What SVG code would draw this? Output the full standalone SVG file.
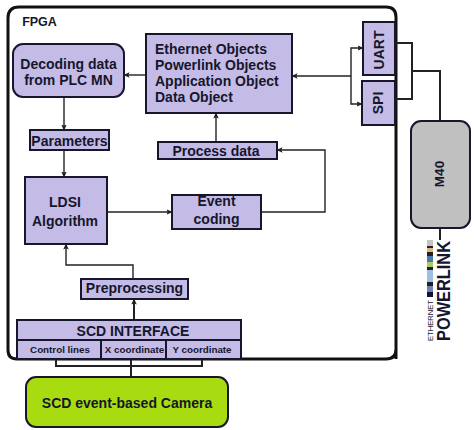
<svg xmlns="http://www.w3.org/2000/svg" width="474" height="430" viewBox="0 0 474 430">
<style>
text{font-family:"Liberation Sans",Arial,sans-serif;font-weight:bold;fill:#16162c;text-anchor:middle}
.b{fill:#c4bce6;stroke:#16162c;stroke-width:2}
.c{fill:none;stroke:#222;stroke-width:1.4}
.t{fill:none;stroke:#222;stroke-width:2}
.a{marker-end:url(#ah)}
.l{font-size:14px}
.s{font-size:9.800px}
.st{text-anchor:start}
</style>
<defs><marker id="ah" markerWidth="6" markerHeight="6" refX="5.5" refY="3" orient="auto" markerUnits="userSpaceOnUse"><path d="M0,0.2L6,3L0,5.8L1.2,3Z" fill="#222"/></marker></defs>
<rect width="474" height="430" fill="#fff"/>
<g id="fpga"><path d="M396,359V17Q396,7 386,7H19Q8,7 8,18V350Q8,359 17,359H386Q396,359 396,349" fill="none" stroke="#111" stroke-width="3"/><text x="39.500" y="25.500" font-size="12.500">FPGA</text></g>
<g id="connectors">
<path class="c a" d="M146,75H124"/>
<path class="c a" d="M64,97V130"/>
<path class="c a" d="M64,150V177"/>
<path class="c a" d="M216,142V113"/>
<path class="c a" d="M107,212H172"/>
<path class="c a" d="M261,212H325V150H277"/>
<path class="c a" d="M133,279V265H66V244"/>
<path class="t a" d="M134,320V299"/>
<path class="c a" d="M351,76H292"/>
<path class="c a" d="M351,76V48H363"/>
<path class="c a" d="M351,76V104H362"/>
<path class="t" d="M396,43H412V99H396M412,71H440V121"/>
<path class="t" d="M440,228V240"/>
<path class="t" d="M56,359V366H202V359M131,359V377"/>
</g>
<g id="decoding"><rect class="b" x="13" y="44" width="111" height="53" rx="10"/><text class="l" x="68.500" y="69">Decoding data</text><text class="l" x="68.500" y="85">from PLC MN</text></g>
<g id="objects"><rect class="b" x="146" y="34" width="146" height="79"/><text class="l st" x="155" y="54">Ethernet Objects</text><text class="l st" x="155" y="70">Powerlink Objects</text><text class="l st" x="155" y="86">Application Object</text><text class="l st" x="155" y="102">Data Object</text></g>
<g id="parameters"><rect class="b" x="30" y="130" width="79" height="20"/><text class="l" x="69.500" y="146">Parameters</text></g>
<g id="process"><rect class="b" x="158" y="142" width="119" height="17"/><text class="l" x="216" y="156">Process data</text></g>
<g id="ldsi"><rect class="b" x="25" y="177" width="82" height="67"/><text class="l" x="65" y="207">LDSI</text><text class="l" x="65" y="226">Algorithm</text></g>
<g id="event"><rect class="b" x="172" y="195" width="89" height="34"/><text class="l" x="216.500" y="206">Event</text><text class="l" x="216.500" y="224">coding</text></g>
<g id="preprocessing"><rect class="b" x="81" y="279" width="107" height="20"/><text class="l" x="134.500" y="293">Preprocessing</text></g>
<g id="scd"><rect class="b" x="17" y="320" width="224" height="39"/><path class="b" d="M17,340H241M101,340V359M166,340V359"/><text x="133" y="336" font-size="14">SCD INTERFACE</text><text class="s" x="60" y="353">Control lines</text><text class="s" x="134.500" y="353">X coordinate</text><text class="s" x="202" y="353">Y coordinate</text></g>
<g id="camera"><rect x="26" y="377" width="202" height="50" rx="10" fill="#a8dc10" stroke="#16162c" stroke-width="2"/><text class="l" x="127" y="408">SCD event-based Camera</text></g>
<g id="uart"><rect class="b" x="363" y="22" width="32" height="53"/><text class="l" transform="translate(384,50) rotate(-90)">UART</text></g>
<g id="spi"><rect class="b" x="362" y="81" width="33" height="44"/><text class="l" transform="translate(383,103) rotate(-90)">SPI</text></g>
<g id="m40"><rect x="411" y="121" width="59" height="107" rx="10" fill="#c0c0c0" stroke="#16162c" stroke-width="2"/><text transform="translate(444,174) rotate(-90)" font-size="13.500">M40</text></g>
<g id="logo">
<rect x="427" y="240" width="6" height="6" fill="#c4c4c4"/><rect x="427" y="246" width="6" height="2" fill="#222"/><rect x="427" y="248" width="6" height="4" fill="#e0b888"/><rect x="427" y="252" width="6" height="4" fill="#222"/><rect x="427" y="256" width="6" height="6" fill="#4a7ab0"/><rect x="427" y="262" width="6" height="5" fill="#a8cc60"/><rect x="427" y="267" width="6" height="3" fill="#222"/><rect x="427" y="270" width="6" height="12" fill="#9cc0e0"/><rect x="427" y="282" width="6" height="4" fill="#222"/><rect x="427" y="286" width="6" height="6" fill="#7080b8"/><rect x="427" y="292" width="6" height="5" fill="#141430"/>
<text class="st" transform="translate(433,341) rotate(-90)" font-size="7.500" style="font-weight:normal" textLength="41" lengthAdjust="spacingAndGlyphs">ETHERNET</text>
<text class="st" transform="translate(449.500,341) rotate(-90)" font-size="18" textLength="100" lengthAdjust="spacingAndGlyphs">POWERLINK</text>
</g>
</svg>
